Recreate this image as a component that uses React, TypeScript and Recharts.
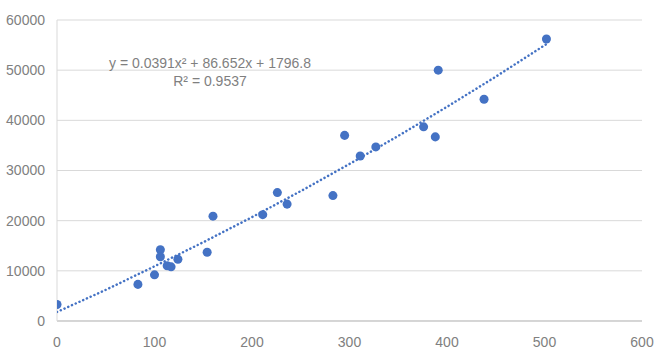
import { ScatterChart, Scatter, XAxis, YAxis, ZAxis, CartesianGrid } from 'recharts'

const xs = [0, 83, 100, 106, 106, 113, 117, 124, 154, 160, 211, 226, 236, 283, 295, 311, 327, 376, 388, 391, 438, 502]
const ys = [3300, 7300, 9200, 14200, 12800, 11000, 10800, 12300, 13700, 20900, 21200, 25600, 23300, 25000, 37000, 32900, 34700, 38700, 36700, 50000, 44200, 56200]

// dotted trend line, sampled along the drawn curve
const trendX = [0, 50, 100, 150, 200, 250, 300, 350, 400, 450, 502]
const trendY = [1800, 6200, 10900, 15700, 20700, 25900, 31300, 36900, 42700, 48700, 55200]

const xTicks = [0, 100, 200, 300, 400, 500, 600]
const yTicks = [0, 10000, 20000, 30000, 40000, 50000, 60000]

const equation = 'y = 0.0391x² + 86.652x + 1796.8'
const rSquared = 'R² = 0.9537'

const points = xs.map((x, i) => ({ x, y: ys[i] }))
const trend = trendX.map((x, i) => ({ x, y: trendY[i] }))

const BLUE = '#4472C4'
const FONT = "'Liberation Sans Narrow', 'Liberation Sans', Roboto, sans-serif"
const tick = { fontSize: 14, fill: '#808080', fontFamily: FONT }

export default function App() {
  return (
    <div style={{ position: 'absolute', left: 0, top: 0, width: 659, height: 353, background: '#fff' }}>
      <ScatterChart width={659} height={353} margin={{ top: 20, right: 17, left: 0, bottom: 0 }}>
        <CartesianGrid vertical={false} stroke="#d9d9d9" />
        <XAxis
          type="number"
          dataKey="x"
          domain={[0, 600]}
          ticks={xTicks}
          tickLine={false}
          axisLine={{ stroke: '#bfbfbf' }}
          tick={tick}
          tickMargin={10}
          height={32}
          allowDataOverflow
        />
        <YAxis
          type="number"
          dataKey="y"
          domain={[0, 60000]}
          ticks={yTicks}
          tickLine={false}
          axisLine={{ stroke: '#d9d9d9' }}
          tick={tick}
          tickMargin={6}
          width={57}
        />
        <ZAxis range={[70, 70]} />
        <Scatter
          data={trend}
          isAnimationActive={false}
          line={{ stroke: BLUE, strokeWidth: 2.5, strokeDasharray: '0.1 4', strokeLinecap: 'round' }}
          shape={() => <g />}
        />
        <Scatter data={points} fill={BLUE} isAnimationActive={false} />
      </ScatterChart>
      <div
        style={{
          position: 'absolute',
          left: 60,
          top: 54,
          width: 300,
          textAlign: 'center',
          fontFamily: FONT,
          fontSize: 14,
          lineHeight: '18px',
          color: '#7f7f7f',
        }}
      >
        <div>{equation}</div>
        <div>{rSquared}</div>
      </div>
    </div>
  )
}
